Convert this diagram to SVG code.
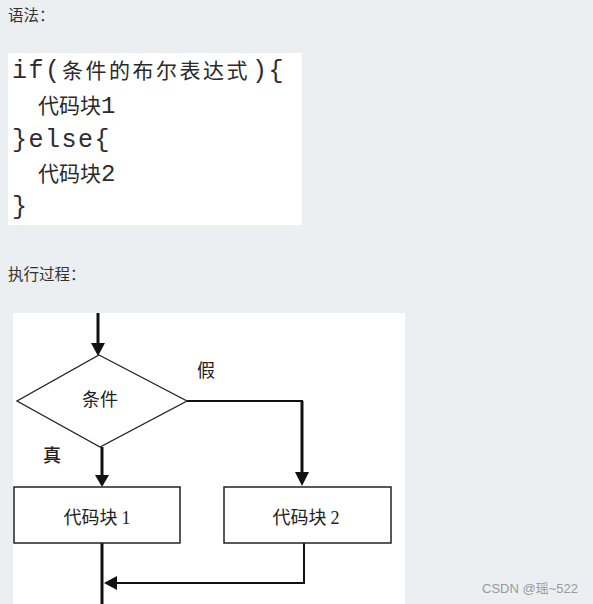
<svg xmlns="http://www.w3.org/2000/svg" width="593" height="604" viewBox="0 0 593 604">
<style>
.hd{font-family:"Noto Sans CJK SC","Noto Sans",sans-serif;font-size:15.5px;fill:#333}
.code{font-family:"Liberation Mono","Noto Sans CJK SC",monospace;font-size:25px;fill:#2e2a33;letter-spacing:1.5px}
.cjk{font-family:"Noto Sans CJK SC",sans-serif;font-size:21px;fill:#2b2b2b}
.fl{font-family:"Noto Sans CJK SC",sans-serif;font-size:18px;fill:#222}
.ln{fill:none;stroke:#111;stroke-width:3}
.thin{fill:none;stroke:#111;stroke-width:2}
.box{fill:#fff;stroke:#222;stroke-width:1.5}
.ah{fill:#111}
</style>
<rect width="593" height="604" fill="#eceff1"/>
<text class="hd" x="8" y="21">语法：</text>
<g id="code">
<rect x="8" y="53" width="294" height="172" fill="#fff"/>
<text class="code" x="12" y="78">if(</text>
<text class="cjk" x="62" y="78" letter-spacing="2.5">条件的布尔表达式</text>
<text class="code" x="252" y="78" letter-spacing="5">){</text>
<text class="cjk" x="38" y="113">代码块<tspan font-family="Liberation Mono" font-size="24">1</tspan></text>
<text class="code" x="12" y="147">}else{</text>
<text class="cjk" x="38" y="181">代码块<tspan font-family="Liberation Mono" font-size="24">2</tspan></text>
<text class="code" x="12" y="214">}</text>
</g>
<text class="hd" x="8" y="280">执行过程：</text>
<rect x="13" y="313" width="392" height="291" fill="#fff"/>
<g id="connectors">
<line class="ln" x1="98" y1="313" x2="98" y2="344"/>
<polygon class="ah" points="91,343 105,343 98,356"/>
<polyline class="thin" points="187,401 302,401 302,474"/>
<line class="ln" x1="302" y1="401" x2="302" y2="474"/>
<polygon class="ah" points="295,472 309,472 302,486"/>
<line class="ln" x1="102" y1="447" x2="102" y2="476"/>
<polygon class="ah" points="95,475 109,475 102,487"/>
<line class="ln" x1="102" y1="543" x2="102" y2="604"/>
<polyline class="thin" points="304,543 304,583 115,583"/>
<polygon class="ah" points="117,576 117,590 104,583"/>
</g>
<g id="cond">
<polygon points="99,355 187,401 100,447 17,401" fill="#fff" stroke="#222" stroke-width="1.3"/>
<text class="fl" x="100" y="406" text-anchor="middle">条件</text>
</g>
<text class="fl" x="197" y="377">假</text>
<text class="fl" x="43" y="462" font-weight="500">真</text>
<g id="block1">
<rect class="box" x="14" y="487" width="166" height="56"/>
<text class="fl" x="97" y="524" text-anchor="middle">代码块 <tspan font-family="Liberation Serif">1</tspan></text>
</g>
<g id="block2">
<rect class="box" x="224" y="487" width="167" height="56"/>
<text class="fl" x="306" y="524" text-anchor="middle">代码块 <tspan font-family="Liberation Serif">2</tspan></text>
</g>
<text x="578" y="593" text-anchor="end" font-family="Liberation Sans,'Noto Sans CJK SC',sans-serif" font-size="13" fill="#999">CSDN @瑶~522</text>
</svg>
